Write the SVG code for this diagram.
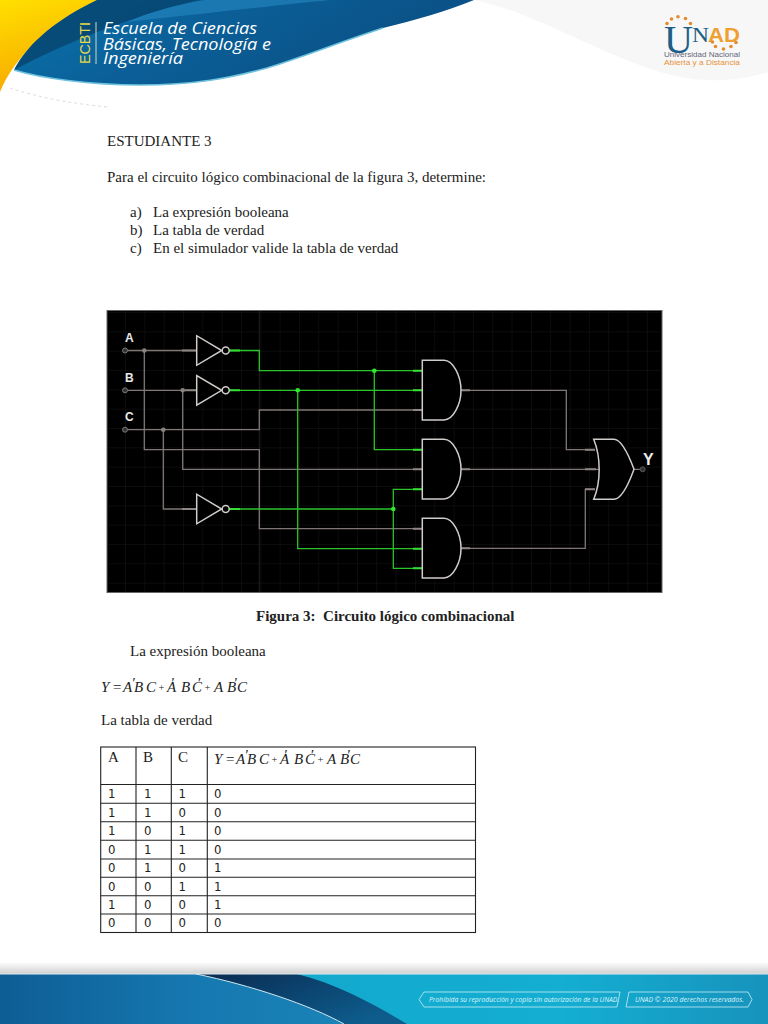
<svg xmlns="http://www.w3.org/2000/svg" width="768" height="1024" viewBox="0 0 768 1024">
<style>
.b{font-family:"Liberation Serif",serif;font-size:15px;fill:#222}
.m{font-family:"Liberation Serif",serif;font-size:15px;font-style:italic;fill:#222}
.p{font-size:10.5px;font-style:normal}
.d{font-family:"DejaVu Sans",sans-serif;font-stretch:condensed;font-size:13px;fill:#222}
.h{font-family:"Open Sans","Noto Sans",sans-serif;font-style:italic;font-size:15.5px;fill:#fff}
.f{font-family:"Open Sans","Noto Sans",sans-serif;font-style:italic;font-size:6.6px;fill:#dff4fa}
.l{font-family:"Liberation Sans",sans-serif;font-size:6.5px}
.g{fill:none;stroke:#7f7776;stroke-width:1.3}
.n{fill:none;stroke:#2bc42b;stroke-width:1.3}
.gb{fill:none;stroke:#8e8684;stroke-width:2}
.nb{fill:none;stroke:#35e035;stroke-width:2}
.s{fill:#000;stroke:#d0ccca;stroke-width:1.5}
.t{font-family:"Liberation Sans",sans-serif;font-weight:bold;font-size:12px;fill:#e8e8e8}
.tb{fill:none;stroke:#222;stroke-width:1.1}
</style>
<defs>
<linearGradient id="y" x1="0" y1="0" x2="0.3" y2="1"><stop offset="0" stop-color="#ffe000"/><stop offset="1" stop-color="#f7a800"/></linearGradient>
<linearGradient id="bl" x1="0" y1="0" x2="1" y2="0.3"><stop offset="0" stop-color="#0a74ad"/><stop offset="0.45" stop-color="#0b5f98"/><stop offset="1" stop-color="#0a4f84"/></linearGradient>
<linearGradient id="sh" x1="0" y1="0" x2="0" y2="1"><stop offset="0" stop-color="#fff"/><stop offset="1" stop-color="#cfcfcf"/></linearGradient>
<linearGradient id="fb" x1="0" y1="0" x2="1" y2="0"><stop offset="0" stop-color="#0e5d95"/><stop offset="0.25" stop-color="#1678b0"/><stop offset="0.5" stop-color="#1a86b8"/></linearGradient>
<linearGradient id="fc" x1="0" y1="0" x2="1" y2="0"><stop offset="0" stop-color="#12a8cc"/><stop offset="0.6" stop-color="#14aed2"/><stop offset="1" stop-color="#1793bd"/></linearGradient>
<linearGradient id="fd" x1="0" y1="0" x2="1" y2="0.6"><stop offset="0" stop-color="#0a2a50"/><stop offset="1" stop-color="#0d5c8c"/></linearGradient>
<pattern id="grid" x="125" y="350.7" width="19.33" height="19.33" patternUnits="userSpaceOnUse"><path d="M0 0H19.33M0 0V19.33" fill="none" stroke="#171717" stroke-width="1"/></pattern>
<path id="and" d="M422.3 360.3H444C453 360.3 461 376 461 390.2S453 420 444 420H422.3Z" class="s"/>
<g id="inv"><path d="M196.7 335.7V365.3L221.7 350.5Z" class="s"/><circle cx="225.7" cy="350.5" r="3.5" class="s"/></g>
</defs>

<g id="header">
<path d="M475 0H768V72C735 82 700 84 660 72C590 50 540 15 475 0Z" fill="#f7f7f7"/>
<path d="M0 0H100C50 25 15 55 0 92Z" fill="url(#y)"/>
<path d="M97 0H474C445 12 415 20 383 28C340 42 300 58 267 68C230 78 195 85 140 85C90 85 40 78 14 70C30 40 60 18 97 0Z" fill="url(#bl)"/>
<path d="M97 0H200C150 10 70 40 14 70C30 40 60 18 97 0Z" fill="#063f66" opacity=".7"/>
<path d="M127 22C150 12 175 5 205 0H330C270 6 190 15 127 22Z" fill="#2a8cc4" opacity=".55"/>
<path d="M14 70C40 78 90 85 140 85C195 85 230 78 267 68C300 58 340 42 383 28" fill="none" stroke="#6ec2dd" stroke-width="1.5"/>
<path d="M10 88C40 98 75 104 108 107" fill="none" stroke="#ddd" stroke-width="1" stroke-dasharray="3 3"/>
<text class="h" x="103" y="33.500" textLength="154" lengthAdjust="spacingAndGlyphs">Escuela de Ciencias</text>
<text class="h" x="103" y="49.500" textLength="168" lengthAdjust="spacingAndGlyphs">Básicas, Tecnología e</text>
<text class="h" x="103" y="64" textLength="80" lengthAdjust="spacingAndGlyphs">Ingeniería</text>
<text transform="translate(90 64) rotate(-90)" font-family="Liberation Sans,sans-serif" font-size="14.5" fill="#e6d84a" textLength="42" lengthAdjust="spacingAndGlyphs">ECBTI</text>
<path d="M96 22V64" stroke="#cfd9c0" stroke-width="1"/>
</g>

<g id="logo">
<text x="664" y="53" font-family="Liberation Serif,serif" font-size="40" fill="#1d5f88" textLength="29" lengthAdjust="spacingAndGlyphs">U</text>
<text x="692" y="42" font-family="Liberation Serif,serif" font-size="20" fill="#1d5f88" textLength="17" lengthAdjust="spacingAndGlyphs">N</text>
<text x="708" y="42" font-family="Liberation Sans,sans-serif" font-weight="bold" font-size="20" fill="#eea032" textLength="32" lengthAdjust="spacingAndGlyphs">AD</text>
<g fill="#e58a2e"><circle cx="667" cy="23.500" r="1.800"/><circle cx="671.500" cy="19" r="1.800"/><circle cx="678" cy="16.800" r="1.800"/><circle cx="685.500" cy="18.500" r="1.800"/><circle cx="690.500" cy="23.500" r="1.800"/><circle cx="712.500" cy="42" r="1.800"/><circle cx="715.500" cy="46.500" r="1.800"/><circle cx="723.500" cy="49" r="1.800"/><circle cx="731" cy="46.500" r="1.800"/><circle cx="736" cy="42.500" r="1.800"/></g>
<text class="l" x="664" y="56.500" fill="#667" textLength="76" lengthAdjust="spacingAndGlyphs">Universidad Nacional</text>
<text class="l" x="664" y="64.500" fill="#e8913a" textLength="76" lengthAdjust="spacingAndGlyphs">Abierta y a Distancia</text>
</g>

<g id="body">
<text class="b" x="107" y="146">ESTUDIANTE 3</text>
<text class="b" x="107" y="182">Para el circuito lógico combinacional de la figura 3, determine:</text>
<text class="b" x="130" y="217">a)</text><text class="b" x="153" y="217">La expresión booleana</text>
<text class="b" x="130" y="235">b)</text><text class="b" x="153" y="235">La tabla de verdad</text>
<text class="b" x="130" y="253">c)</text><text class="b" x="153" y="253">En el simulador valide la tabla de verdad</text>
<text class="b" x="256" y="621" font-weight="bold" xml:space="preserve">Figura 3:  Circuito lógico combinacional</text>
<text class="b" x="130" y="656">La expresión booleana</text>
<text class="m" x="101 112 123 131.500 134 146" y="692 692 692 688 692 692">Y=A′BC<tspan class="p" x="158.500" y="691">+</tspan><tspan x="167 170.500 181 192 197" y="692 688 692 692 688">A′BC′</tspan><tspan class="p" x="204.500" y="691">+</tspan><tspan x="214 227 233.500 237" y="692 692 688 692">AB′C</tspan></text>
<text class="b" x="101" y="725">La tabla de verdad</text>
</g>

<g id="figure">
<rect x="107" y="310.500" width="555" height="282" fill="#000" stroke="#666" stroke-width="1"/>
<rect x="107.500" y="311" width="554" height="281" fill="url(#grid)"/>
<path d="M259.300 311V592" stroke="#202020"/>
</g>

<g id="connectors">
<path class="g" d="M125 350.500H196.700M144.300 350.500V449.700H259.300V528.700H422.300"/>
<path class="g" d="M125 390.300H196.700M182.700 390.300V469.300H422.300"/>
<path class="g" d="M125 429.700H259.300V410H422.300M163.300 429.700V509H196.700"/>
<path class="n" d="M229.200 350.500H259.300V370.700H422.300M374.300 370.700V449.700H422.300"/>
<path class="n" d="M229.200 390.300H422.300M297.700 390.300V548.700H422.300"/>
<path class="n" d="M229.200 509H393.300M422.300 489.300H393.300V568.300H422.300"/>
<path class="g" d="M461 390.300H566.300V449.700H595M461 469.300H600M461 548.300H585.300V489.300H595M634 469.300H643"/>
<path class="gb" d="M182 350.500H196.700M182 509H196.700M185 390.300H196.700M413 410H422.300M413 469.300H422.300M413 528.700H422.300M461 390.300H470M461 469.300H470M461 548.300H470M585 449.700H595M585 469.300H596M585 489.300H595"/>
<path class="nb" d="M229.200 350.500H240M229.200 390.300H240M229.200 509H240M413 370.700H422.300M413 390.300H422.300M413 449.700H422.300M413 489.300H422.300M413 548.700H422.300M413 568.300H422.300"/>
<g fill="#8a8280"><circle cx="144.300" cy="350.500" r="2.300"/><circle cx="182.700" cy="390.300" r="2.300"/><circle cx="163.300" cy="429.700" r="2.300"/></g>
<g fill="#2fe82f"><circle cx="374.300" cy="370.700" r="2.300"/><circle cx="297.700" cy="390.300" r="2.300"/><circle cx="393.300" cy="509" r="2.300"/></g>
</g>

<g id="input-A"><circle cx="125" cy="350.500" r="2.500" fill="#333" stroke="#777"/><text class="t" x="125" y="342">A</text></g>
<g id="input-B"><circle cx="125" cy="390.300" r="2.500" fill="#333" stroke="#777"/><text class="t" x="125" y="381.500">B</text></g>
<g id="input-C"><circle cx="125" cy="429.700" r="2.500" fill="#333" stroke="#777"/><text class="t" x="125" y="421">C</text></g>
<g id="not-A"><use href="#inv"/></g>
<g id="not-B"><use href="#inv" y="39.800"/></g>
<g id="not-C"><use href="#inv" y="158.500"/></g>
<g id="and-1"><use href="#and"/></g>
<g id="and-2"><use href="#and" y="79"/></g>
<g id="and-3"><use href="#and" y="158"/></g>
<g id="or-1"><path class="s" d="M593.700 439.300H614C622 439.300 629 456 634 469.300C629 483 622 499.300 614 499.300H593.700C601 482 601 457 593.700 439.300Z"/></g>
<g id="output-Y"><circle cx="642.700" cy="469.300" r="2.500" fill="#333" stroke="#555"/><text x="643" y="465" font-family="Liberation Sans,sans-serif" font-weight="bold" font-size="16" fill="#eee">Y</text></g>

<g id="table">
<rect class="tb" x="100.700" y="747" width="374.800" height="185.500"/>
<path class="tb" d="M136 747V932.500M171.300 747V932.500M207.300 747V932.500M100.700 784.500H475.500M100.700 803.300H475.500M100.700 821.700H475.500M100.700 840.300H475.500M100.700 859H475.500M100.700 877.300H475.500M100.700 895.700H475.500M100.700 914H475.500"/>
<text class="b" x="108" y="762">A</text><text class="b" x="143" y="762">B</text><text class="b" x="178" y="762">C</text>
<text class="m" x="214 225 236 244.500 247 259" y="764 764 764 760 764 764">Y=A′BC<tspan class="p" x="271.500" y="763">+</tspan><tspan x="280 283.500 294 305 310" y="764 760 764 764 760">A′BC′</tspan><tspan class="p" x="317.500" y="763">+</tspan><tspan x="327 340 346.500 350" y="764 764 760 764">AB′C</tspan></text>
<g class="d">
<text x="108" y="798">1</text><text x="144" y="798">1</text><text x="178.500" y="798">1</text><text x="214" y="798">0</text>
<text x="108" y="816.500">1</text><text x="144" y="816.500">1</text><text x="178.500" y="816.500">0</text><text x="214" y="816.500">0</text>
<text x="108" y="835">1</text><text x="144" y="835">0</text><text x="178.500" y="835">1</text><text x="214" y="835">0</text>
<text x="108" y="853.500">0</text><text x="144" y="853.500">1</text><text x="178.500" y="853.500">1</text><text x="214" y="853.500">0</text>
<text x="108" y="872">0</text><text x="144" y="872">1</text><text x="178.500" y="872">0</text><text x="214" y="872">1</text>
<text x="108" y="890.500">0</text><text x="144" y="890.500">0</text><text x="178.500" y="890.500">1</text><text x="214" y="890.500">1</text>
<text x="108" y="909">1</text><text x="144" y="909">0</text><text x="178.500" y="909">0</text><text x="214" y="909">1</text>
<text x="108" y="927">0</text><text x="144" y="927">0</text><text x="178.500" y="927">0</text><text x="214" y="927">0</text>
</g>
</g>

<g id="footer">
<rect x="0" y="962" width="768" height="12" fill="url(#sh)"/>
<rect x="0" y="974" width="768" height="50" fill="url(#fb)"/>
<path d="M250 974H768V1024H344C320 1005 290 985 250 974Z" fill="url(#fc)"/>
<path d="M196 974H297C340 985 375 1005 407 1024H344C310 1005 250 985 196 974Z" fill="url(#fd)"/>
<path d="M196 974C250 985 310 1005 344 1024" fill="none" stroke="#cfe6f0" stroke-width="1"/>
<path d="M0 974H768" stroke="#dfe9ee" stroke-width="1"/>
<path d="M424 992H620L617 1007H424L419 999.500Z" fill="none" stroke="#c8eef6" stroke-width=".8"/>
<path d="M629 992H748L752 999.500L748 1007H626Z" fill="none" stroke="#c8eef6" stroke-width=".8"/>
<text class="f" x="429" y="1002" textLength="190" lengthAdjust="spacingAndGlyphs">Prohibida su reproducción y copia sin autorización de la UNAD.</text>
<text class="f" x="635" y="1002" textLength="109" lengthAdjust="spacingAndGlyphs">UNAD © 2020 derechos reservados.</text>
</g>
</svg>
